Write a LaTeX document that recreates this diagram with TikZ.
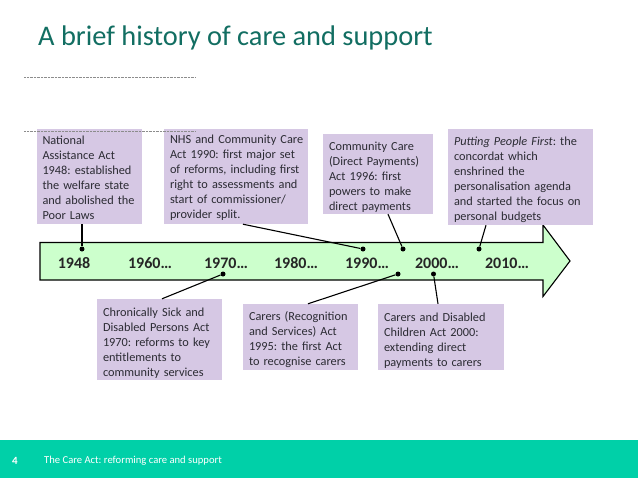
\documentclass[tikz,border=0pt]{standalone}
\usepackage{fontspec}
\setmainfont{Carlito}
\usetikzlibrary{positioning}
\frenchspacing

\definecolor{boxlilac}{HTML}{D6C8E4}
\definecolor{arrowgreen}{HTML}{CCFFCC}
\definecolor{footgreen}{HTML}{00D0A8}
\definecolor{titleteal}{HTML}{126E62}
\definecolor{bodyink}{HTML}{2B2B33}

\tikzset{
  actbox/.style={fill=boxlilac,draw=none,align=left,inner xsep=6pt,inner ysep=0pt,
    text=bodyink,font=\fontsize{12.3}{15}\selectfont,
    execute at begin node={\rule{0pt}{#1}}},
  actbox/.default=15pt,
  decade/.style={font=\fontsize{16}{18}\selectfont\bfseries,text=black!85},
  pin/.style={circle,fill=black,inner sep=0pt,minimum size=5pt},
  leader/.style={draw=black,line width=1.1pt},
  smudge/.style={draw=black!45,line width=0.8pt,dash pattern=on 1pt off 0.4pt}
}

\begin{document}
\begin{tikzpicture}[x=1pt,y=-1pt]
\useasboundingbox (0,0) rectangle (638,479);
\fill[white] (0,0) rectangle (638,479);

\node[anchor=west,inner sep=0pt,text=titleteal,font=\fontsize{28.4}{32}\selectfont] (title) at (38,38) {A brief history of care and support};

% the timeline
\draw[draw=black,line width=1.1pt,fill=arrowgreen] (40,242.5) -- (543,242.5) -- (543,225) -- (570,261) -- (543,296.5) -- (543,280) -- (40,280) -- cycle;

\node[decade] (y1948) at (74,263) {1948};
\node[decade] (y1960) at (150,263) {1960…};
\node[decade] (y1970) at (226,263) {1970…};
\node[decade] (y1980) at (296,263) {1980…};
\node[decade] (y1990) at (367,263) {1990…};
\node[decade] (y2000) at (437,263) {2000…};
\node[decade] (y2010) at (507,263) {2010…};

% boxes above
\node[actbox=11pt,text width=93.5pt,minimum height=95.5pt] (natass) at (89.25,176.25) {National\\Assistance Act\\1948: established\\the welfare state\\and abolished the\\Poor Laws};
\node[actbox=11pt,text width=132pt,minimum height=95.5pt] (nhs) at (236,176.25) {\mbox{NHS and Community Care}\\Act 1990: first major set\\of reforms, including first\\right to assessments and\\start of commissioner/\\provider split.};
\node[actbox,text width=98pt,minimum height=80.5pt] (direct) at (378,173.75) {Community Care\\(Direct Payments)\\Act 1996: first\\powers to make\\direct payments};
\node[actbox,text width=133pt,minimum height=96pt] (people) at (520.5,177) {\textit{Putting People First}: the\\concordat which\\enshrined the\\personalisation agenda\\and started the focus on\\personal budgets};

% boxes below
\node[actbox,text width=113pt,minimum height=81pt] (sick) at (159.5,339.5) {Chronically Sick and\\Disabled Persons Act\\1970: reforms to key\\entitlements to\\community services};
\node[actbox,text width=103pt,minimum height=66pt] (carers) at (300.5,337) {Carers (Recognition\\and Services) Act\\1995: the first Act\\to recognise carers};
\node[actbox,text width=114pt,minimum height=66pt] (disabled) at (441,337) {Carers and Disabled\\Children Act 2000:\\extending direct\\payments to carers};

% unreadable lines of small print
\coordinate (s1a) at (24,77);
\coordinate (s1b) at (195,77);
\coordinate (s2a) at (24,131.5);
\coordinate (s2b) at (195,131.5);
\draw[smudge] (s1a) -- (s1b);
\draw[smudge] (s2a) -- (s2b);

% pins and leaders
\node[pin] (p1) at (82,249) {};
\node[pin] (p2) at (363,249) {};
\node[pin] (p3) at (403,249) {};
\node[pin] (p4) at (479,249) {};
\node[pin] (p5) at (223,274) {};
\node[pin] (p6) at (398,274) {};
\node[pin] (p7) at (433.5,274) {};
\draw[leader] ([xshift=-7.25pt]natass.south) -- (p1);
\draw[leader] ([xshift=7pt]nhs.south) -- (p2);
\draw[leader] ([xshift=10pt]direct.south) -- (p3);
\draw[leader] ([xshift=-34.5pt]people.south) -- (p4);
\draw[leader] ([xshift=2.5pt]sick.north) -- (p5);
\draw[leader] ([xshift=7.5pt]carers.north) -- (p6);
\draw[leader] ([xshift=-3pt]disabled.north) -- (p7);

% footer
\fill[footgreen] (0,440) rectangle (638,478);
\node[anchor=west,inner sep=0pt,text=white,font=\fontsize{11}{14}\selectfont\bfseries] (pageno) at (12,460.5) {4};
\node[anchor=west,inner sep=0pt,text=white,font=\fontsize{10.6}{14}\selectfont] (foot) at (44,460.5) {The Care Act: reforming care and support};
\end{tikzpicture}
\end{document}
